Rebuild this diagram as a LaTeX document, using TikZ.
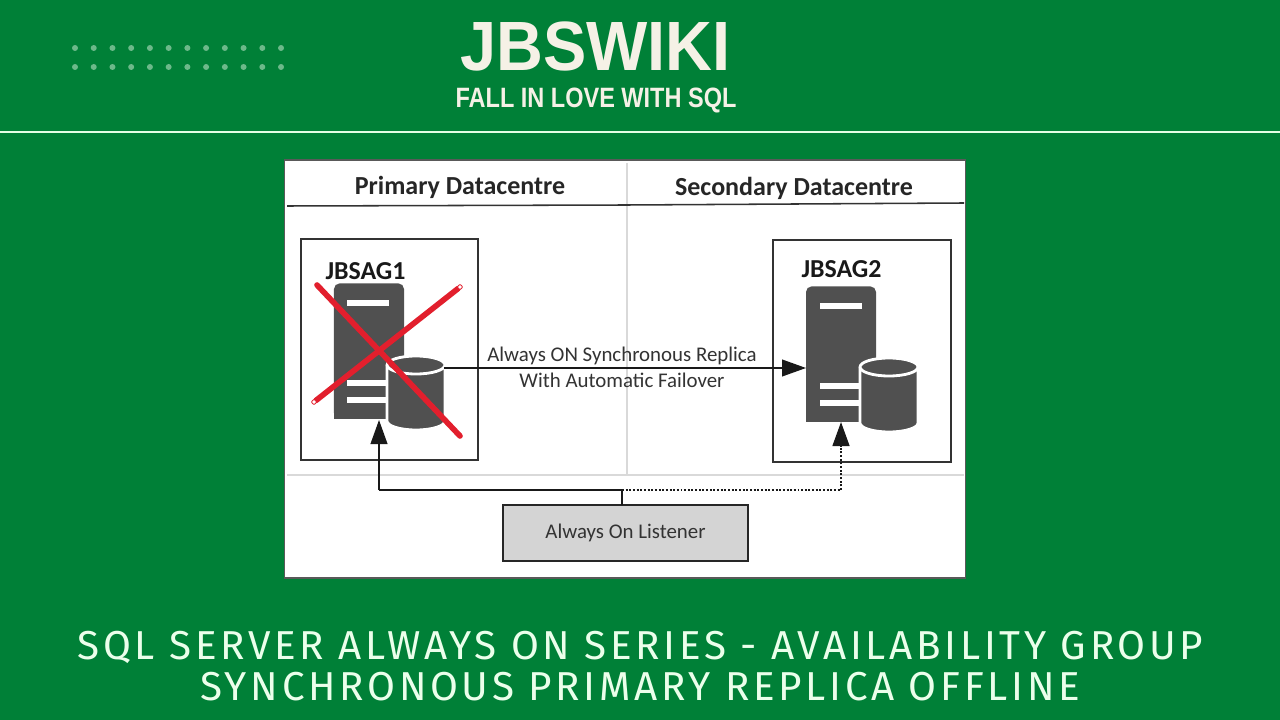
\documentclass[tikz,border=0pt]{standalone}
\usepackage{fontspec}
\setmainfont{Carlito}
\newfontfamily\bannerfont[LetterSpace=9.2]{Fira Sans}
\newfontfamily\titlefont[FakeStretch=0.93]{Liberation Sans}
\newfontfamily\subtitlefont[FakeStretch=0.84]{Liberation Sans}
\usepackage{tikz}
\usetikzlibrary{arrows.meta}
\definecolor{bgGreen}{HTML}{008037}
\definecolor{dotGreen}{HTML}{6DB98A}
\definecolor{paleText}{HTML}{F5F1E6}
\definecolor{srvGrey}{HTML}{505050}
\definecolor{xRed}{HTML}{E21F2D}
% database drum round a named coordinate
\newcommand{\dbDraw}[1]{
    \begin{scope}[shift={(#1)},x=0.025cm,y=0.025cm]
        \filldraw[srvGrey,draw=white,line width=2pt]
            (-29,28) arc[start angle=180,end angle=0,x radius=29,y radius=9]
            -- (29,-28) arc[start angle=0,end angle=-180,x radius=29,y radius=9] -- cycle;
        \draw[white,line width=2pt]
            (-29,28) arc[start angle=180,end angle=360,x radius=29,y radius=9];
    \end{scope}
}
\begin{document}
\begin{tikzpicture}[x=0.025cm,y=-0.025cm,
                    panelND/.style={rectangle,
                                      draw=black!65,
                                      line width=0.8pt,
                                      fill=white,
                                      minimum width=17cm,
                                      minimum height=10.45cm},
                    hostND/.style={rectangle,
                                      draw=black!80,
                                      line width=1.4pt,
                                      fill=white,
                                      inner sep=0pt},
                    srvND/.style={rectangle,
                                      fill=srvGrey,
                                      rounded corners=4pt,
                                      minimum width=1.75cm,
                                      minimum height=3.38cm,
                                      inner sep=0pt},
                    barND/.style={rectangle,
                                      fill=white,
                                      minimum width=1.05cm,
                                      minimum height=0.14cm,
                                      inner sep=0pt},
                    dotND/.style={circle,
                                      fill=dotGreen,
                                      minimum size=0.15cm,
                                      inner sep=0pt},
                    linkND/.style={line width=1.1pt,
                                      draw=black!90},
                    dotLK/.style={linkND,
                                      line width=1.4pt,
                                      dash pattern=on 1.4pt off 1.2pt},
                    tipND/.style={-{Triangle[length=0.6cm,width=0.42cm]}},
                    ringND/.style={circle,
                                      draw=xRed,
                                      line width=0.5pt,
                                      fill=white,
                                      minimum size=0.11cm,
                                      inner sep=0pt}]
        \useasboundingbox (0,0) rectangle (1280,720);
        \fill[bgGreen] (0,0) rectangle (1280,720);
        % banner
        \foreach \i in {0,...,11} {
            \node[dotND](dotT\i) at (75+18.73*\i,48) {};
            \node[dotND](dotB\i) at (75+18.73*\i,67) {};
        }
        \node[text=paleText,font=\titlefont\bfseries\fontsize{49.6}{50}\selectfont](title) at (595.5,46) {JBSWIKI};
        \node[text=paleText,font=\subtitlefont\bfseries\fontsize{19.9}{20}\selectfont](subtitle) at (596,100.5) {FALL IN LOVE WITH SQL};
        \coordinate (ruleL) at (0,132);
        \coordinate (ruleR) at (1280,132);
        \draw[line width=1.8pt,color=green!10!white] (ruleL) -- (ruleR);
        % panel and dividers
        \node[panelND](panel) at (625,369) {};
        \coordinate (headA) at (287,206);
        \coordinate (headB) at (627,205);
        \coordinate (headC) at (964,203);
        \coordinate (vertT) at (627,163);
        \coordinate (vertB) at (627,475);
        \coordinate (horzL) at (287,475);
        \coordinate (horzR) at (964,475);
        \draw[black!15,line width=1.2pt] (vertT) -- (vertB);
        \draw[black!15,line width=1.2pt] (horzL) -- (horzR);
        \draw[black!80,line width=1.1pt] (headA) -- (headB) -- (headC);
        \node[font=\bfseries\fontsize{18.5}{19}\selectfont,text=black!85](prim) at (460,187) {Primary Datacentre};
        \node[font=\bfseries\fontsize{18.5}{19}\selectfont,text=black!85](sec)  at (794,188.5) {Secondary Datacentre};
        % hosts
        \node[hostND,minimum width=4.425cm,minimum height=5.525cm](hostA) at (389.5,349.5) {};
        \node[hostND,minimum width=4.45cm,minimum height=5.55cm](hostB) at (862,351) {};
        \node[font=\bfseries\fontsize{18.4}{19}\selectfont,text=black!90](nameA) at (365.5,271) {JBSAG1};
        \node[font=\bfseries\fontsize{18.4}{19}\selectfont,text=black!90](nameB) at (841.5,269) {JBSAG2};
        \node[srvND](srvA) at (369,351) {};
        \node[srvND](srvB) at (841,354) {};
        \fill[srvGrey] (srvA.west) rectangle (srvA.south east);
        \fill[srvGrey] (srvB.west) rectangle (srvB.south east);
        \foreach \n/\px/\py in {A/368/303,C/368/383,E/368/400,B/841/306,D/841/386,F/841/403} {
            \node[barND](bar\n) at (\px,\py) {};
        }
        \coordinate (dbA) at (416,393);
        \coordinate (dbB) at (889,395);
        \dbDraw{dbA}
        \dbDraw{dbB}
        % listener
        \node[rectangle,draw=black!85,line width=1.7pt,fill=black!17,minimum width=6.125cm,minimum height=1.4cm,font=\fontsize{14.85}{15}\selectfont,text=black!80](lsn) at (625.5,533) {Always On Listener};
        % connectors
        \coordinate (joint) at (622,490);
        \coordinate (lsnUp) at (622,505);
        \coordinate (elbA) at (379,490);
        \coordinate (elbB) at (841,490);
        \coordinate (inA) at (379,420);
        \coordinate (inB) at (841,422);
        \coordinate (replA) at (444,368);
        \coordinate (replB) at (806,368);
        \path
            (lsnUp) edge [linkND] (joint)
            (joint) edge [linkND] (elbA)
            (elbA)  edge [linkND,tipND] (inA)
            (joint) edge [dotLK] (elbB)
            (elbB)  edge [dotLK,tipND] (inB)
            (replA) edge [linkND,tipND] (replB)
            ;
        \node[font=\fontsize{14.85}{15}\selectfont,text=black!80](replT) at (622,355.5) {Always ON Synchronous Replica};
        \node[font=\fontsize{14.85}{15}\selectfont,text=black!80](replU) at (622,380) {With Automatic Failover};
        % red cross
        \node[ringND](xTR) at (460,287) {};
        \node[ringND](xBL) at (314,402) {};
        \coordinate (xTL) at (317,285);
        \coordinate (xBR) at (460,436);
        \draw[xRed,line width=4pt,line cap=round] (xTL) -- (xBR);
        \draw[xRed,line width=4pt,line cap=round] (xBL) -- (xTR);
        \node[ringND] at (xTR) {};
        \node[ringND] at (xBL) {};
        % footer
        \node[text=green!8!white,font=\bannerfont\fontsize{28.7}{30}\selectfont](footA) at (640.5,647) {SQL SERVER ALWAYS ON SERIES - AVAILABILITY GROUP};
        \node[text=green!8!white,font=\bannerfont\fontsize{28.7}{30}\selectfont](footB) at (640,687) {SYNCHRONOUS PRIMARY REPLICA OFFLINE};
    \end{tikzpicture}
\end{document}
